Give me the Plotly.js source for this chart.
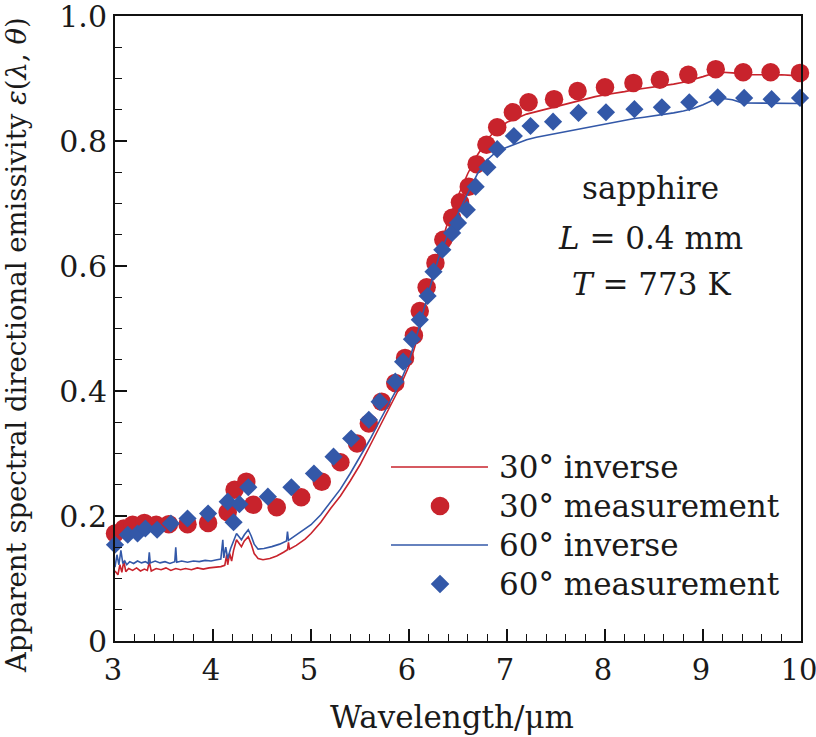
<!DOCTYPE html>
<html>
<head>
<meta charset="utf-8">
<script src="https://cdn.plot.ly/plotly-3.0.1.min.js"></script>
<style>
  html, body { margin: 0; padding: 0; background: #ffffff; }
  #chart { width: 816px; height: 737px; }
</style>
</head>
<body>
<div id="chart"></div>
<script>
// Apparent spectral directional emissivity of sapphire (L = 0.4 mm, T = 773 K)

// 30° inverse (retrieved) curve
const lam30Inv = [3.00,3.03,3.05,3.07,3.09,3.11,3.14,3.18,3.22,3.26,3.30,3.33,3.35,3.37,3.42,3.47,3.52,3.57,3.62,3.67,3.72,3.78,3.84,3.90,3.96,4.02,4.08,4.12,4.14,4.15,4.17,4.19,4.21,4.24,4.27,4.29,4.32,4.36,4.39,4.42,4.46,4.51,4.58,4.65,4.72,4.76,4.77,4.78,4.85,4.94,5.00,5.10,5.20,5.30,5.40,5.50,5.60,5.70,5.80,5.90,6.00,6.10,6.20,6.30,6.40,6.50,6.60,6.70,6.80,6.90,7.00,7.10,7.20,7.30,7.40,7.50,7.60,7.70,7.80,7.90,8.00,8.10,8.20,8.30,8.40,8.50,8.60,8.70,8.80,8.90,9.00,9.10,9.20,9.30,9.40,9.50,9.60,9.70,9.80,9.90,10.00];
const eps30Inv = [0.112,0.106,0.122,0.110,0.128,0.111,0.116,0.113,0.117,0.112,0.115,0.113,0.126,0.112,0.116,0.114,0.117,0.113,0.116,0.114,0.116,0.114,0.117,0.115,0.117,0.118,0.119,0.121,0.138,0.122,0.140,0.128,0.145,0.162,0.155,0.151,0.160,0.167,0.155,0.140,0.132,0.130,0.132,0.136,0.142,0.146,0.158,0.147,0.153,0.163,0.172,0.190,0.212,0.232,0.256,0.282,0.312,0.343,0.373,0.404,0.440,0.492,0.560,0.622,0.672,0.712,0.748,0.778,0.803,0.820,0.830,0.837,0.843,0.847,0.851,0.856,0.860,0.864,0.867,0.871,0.874,0.876,0.879,0.882,0.884,0.886,0.888,0.891,0.894,0.898,0.903,0.908,0.910,0.909,0.907,0.906,0.906,0.905,0.906,0.905,0.906];

// 30° measurement
const lam30Meas = [3.00,3.09,3.18,3.30,3.42,3.55,3.74,3.95,4.15,4.22,4.34,4.41,4.65,4.90,5.11,5.30,5.47,5.59,5.72,5.86,5.96,6.05,6.11,6.18,6.27,6.35,6.44,6.52,6.61,6.69,6.79,6.90,7.06,7.22,7.48,7.72,8.00,8.29,8.56,8.85,9.13,9.41,9.69,9.99];
const eps30Meas = [0.172,0.180,0.186,0.189,0.186,0.187,0.187,0.189,0.206,0.242,0.255,0.218,0.214,0.230,0.255,0.286,0.316,0.348,0.383,0.413,0.453,0.489,0.528,0.566,0.605,0.642,0.677,0.702,0.727,0.763,0.794,0.822,0.846,0.862,0.867,0.880,0.886,0.893,0.898,0.906,0.915,0.910,0.910,0.909];

// 60° inverse (retrieved) curve
const lam60Inv = [3.00,3.02,3.04,3.06,3.08,3.10,3.12,3.15,3.19,3.23,3.27,3.31,3.34,3.35,3.36,3.41,3.46,3.51,3.56,3.61,3.62,3.63,3.68,3.74,3.80,3.86,3.92,3.98,4.04,4.08,4.10,4.11,4.13,4.15,4.18,4.21,4.24,4.27,4.29,4.32,4.36,4.39,4.42,4.46,4.52,4.60,4.68,4.75,4.76,4.77,4.85,4.95,5.00,5.10,5.20,5.30,5.40,5.50,5.60,5.70,5.80,5.90,6.00,6.10,6.20,6.30,6.40,6.50,6.60,6.70,6.80,6.90,7.00,7.10,7.20,7.30,7.40,7.50,7.60,7.70,7.80,7.90,8.00,8.10,8.20,8.30,8.40,8.50,8.60,8.70,8.80,8.90,9.00,9.10,9.20,9.30,9.40,9.50,9.60,9.70,9.80,9.90,10.00];
const eps60Inv = [0.118,0.138,0.122,0.145,0.124,0.128,0.122,0.127,0.124,0.128,0.125,0.127,0.124,0.142,0.125,0.128,0.125,0.127,0.124,0.127,0.150,0.126,0.128,0.126,0.128,0.127,0.129,0.128,0.130,0.131,0.162,0.133,0.150,0.132,0.148,0.160,0.172,0.166,0.162,0.170,0.178,0.168,0.155,0.147,0.148,0.151,0.155,0.160,0.175,0.161,0.170,0.180,0.186,0.202,0.222,0.243,0.268,0.294,0.322,0.352,0.380,0.410,0.448,0.500,0.558,0.612,0.652,0.684,0.716,0.748,0.770,0.784,0.790,0.796,0.802,0.806,0.809,0.813,0.816,0.819,0.822,0.825,0.828,0.830,0.833,0.836,0.838,0.840,0.843,0.845,0.848,0.852,0.858,0.865,0.868,0.866,0.861,0.861,0.861,0.860,0.861,0.860,0.860];

// 60° measurement
const lam60Meas = [3.00,3.13,3.23,3.31,3.43,3.57,3.74,3.95,4.15,4.21,4.27,4.36,4.56,4.80,5.03,5.23,5.41,5.59,5.70,5.86,5.94,6.03,6.11,6.19,6.25,6.34,6.44,6.50,6.59,6.68,6.80,6.90,7.07,7.24,7.47,7.73,8.01,8.30,8.58,8.86,9.15,9.42,9.70,9.99];
const eps60Meas = [0.154,0.170,0.172,0.180,0.178,0.188,0.196,0.204,0.223,0.190,0.219,0.246,0.231,0.246,0.268,0.295,0.324,0.354,0.383,0.415,0.447,0.483,0.514,0.552,0.591,0.626,0.653,0.669,0.690,0.727,0.758,0.787,0.808,0.824,0.831,0.845,0.846,0.851,0.854,0.862,0.870,0.869,0.867,0.869];

// axis tick labels
const xTickVals = [3,4,5,6,7,8,9,10];
const xTickText = ['3','4','5','6','7','8','9','10'];
const yTickVals = [0,0.2,0.4,0.6,0.8,1.0];
const yTickText = ['0','0.2','0.4','0.6','0.8','1.0'];

// legend entries (drawn as a key inside the plot area)
const legendNames = ['30° inverse','30° measurement','60° inverse','60° measurement'];

const RED = '#c8232c';
const BLUE = '#3358a8';
const INK = '#1a1a1a';
const FONT = '"DejaVu Serif", serif';

const traces = [
  { x: lam30Inv, y: eps30Inv, name: legendNames[0], type: 'scatter', mode: 'lines',
    line: { color: RED, width: 1.6 } },
  { x: lam30Meas, y: eps30Meas, name: legendNames[1], type: 'scatter', mode: 'markers',
    cliponaxis: false,
    marker: { color: RED, size: 18.5, symbol: 'circle', line: { width: 0 } } },
  { x: lam60Inv, y: eps60Inv, name: legendNames[2], type: 'scatter', mode: 'lines',
    line: { color: BLUE, width: 1.6 } },
  { x: lam60Meas, y: eps60Meas, name: legendNames[3], type: 'scatter', mode: 'markers',
    cliponaxis: false,
    marker: { color: BLUE, size: 14, symbol: 'diamond', line: { width: 0 } } }
];

// key geometry in paper units
const plotW = 686, plotH = 625;
const keyRows = [0.2784, 0.2160, 0.1536, 0.0912];
const keyLineX = [0.4023, 0.5437];
const keyMarkX = 0.4738;
const keyTextX = 0.5569;
const rx = 9.3 / plotW, ry = 9.3 / plotH;

const shapes = [
  { type: 'line', xref: 'paper', yref: 'paper', x0: keyLineX[0], x1: keyLineX[1],
    y0: keyRows[0], y1: keyRows[0], line: { color: RED, width: 1.6 } },
  { type: 'circle', xref: 'paper', yref: 'paper', x0: keyMarkX - rx, x1: keyMarkX + rx,
    y0: keyRows[1] - ry, y1: keyRows[1] + ry, fillcolor: RED, line: { width: 0 } },
  { type: 'line', xref: 'paper', yref: 'paper', x0: keyLineX[0], x1: keyLineX[1],
    y0: keyRows[2], y1: keyRows[2], line: { color: BLUE, width: 1.6 } },
  { type: 'path', xref: 'paper', yref: 'paper', fillcolor: BLUE, line: { width: 0 },
    path: 'M' + (keyMarkX - rx) + ',' + keyRows[3] + ' L' + keyMarkX + ',' + (keyRows[3] + ry) +
          ' L' + (keyMarkX + rx) + ',' + keyRows[3] + ' L' + keyMarkX + ',' + (keyRows[3] - ry) + ' Z' }
];

const txt = (text, x, y, size, extra) => Object.assign({
  text: text, xref: 'paper', yref: 'paper', x: x, y: y, showarrow: false,
  xanchor: 'center', yanchor: 'middle',
  font: { family: FONT, size: size, color: INK }
}, extra || {});

const annotations = [
  txt('sapphire', 0.780, 0.7248, 31),
  txt('<i>L</i> = 0.4 mm', 0.780, 0.6448, 31),
  txt('<i>T</i> = 773 K', 0.782, 0.5712, 31),
  txt('Apparent spectral directional emissivity <i>ε</i>(<i>λ</i>, <i>θ</i>)', -0.1443, 0.4736, 27.5,
      { textangle: -90 }),
  txt('Wavelength/μm', 0.491, -0.1216, 31)
];
legendNames.forEach((name, i) => {
  annotations.push(txt(name, keyTextX, keyRows[i], 31, { xanchor: 'left' }));
});

const layout = {
  width: 816, height: 737,
  margin: { l: 115, r: 15, t: 16, b: 96 },
  paper_bgcolor: '#ffffff', plot_bgcolor: '#ffffff',
  font: { family: FONT, size: 31, color: INK },
  showlegend: false,
  xaxis: {
    range: [3, 10], tickvals: xTickVals, ticktext: xTickText,
    showgrid: false, zeroline: false,
    showline: true, linecolor: '#111', linewidth: 2, mirror: true,
    ticks: 'inside', ticklen: 12, tickwidth: 1.5, tickcolor: '#111',
    minor: { dtick: 0.2, ticks: 'inside', ticklen: 7, tickwidth: 1.3, tickcolor: '#111', showgrid: false },
    tickfont: { family: FONT, size: 29, color: INK },
    ticklabelshift: -2, ticklabelstandoff: 2,
    ticklabeloverflow: 'allow'
  },
  yaxis: {
    range: [0, 1.0], tickvals: yTickVals, ticktext: yTickText,
    showgrid: false, zeroline: false,
    showline: true, linecolor: '#111', linewidth: 2, mirror: true,
    ticks: 'inside', ticklen: 12, tickwidth: 1.5, tickcolor: '#111',
    minor: { dtick: 0.05, ticks: 'inside', ticklen: 7, tickwidth: 1.3, tickcolor: '#111', showgrid: false },
    tickfont: { family: FONT, size: 30, color: INK },
    ticklabeloverflow: 'allow'
  },
  shapes: shapes,
  annotations: annotations
};

Plotly.newPlot('chart', traces, layout, { displayModeBar: false, staticPlot: true });
</script>
</body>
</html>
